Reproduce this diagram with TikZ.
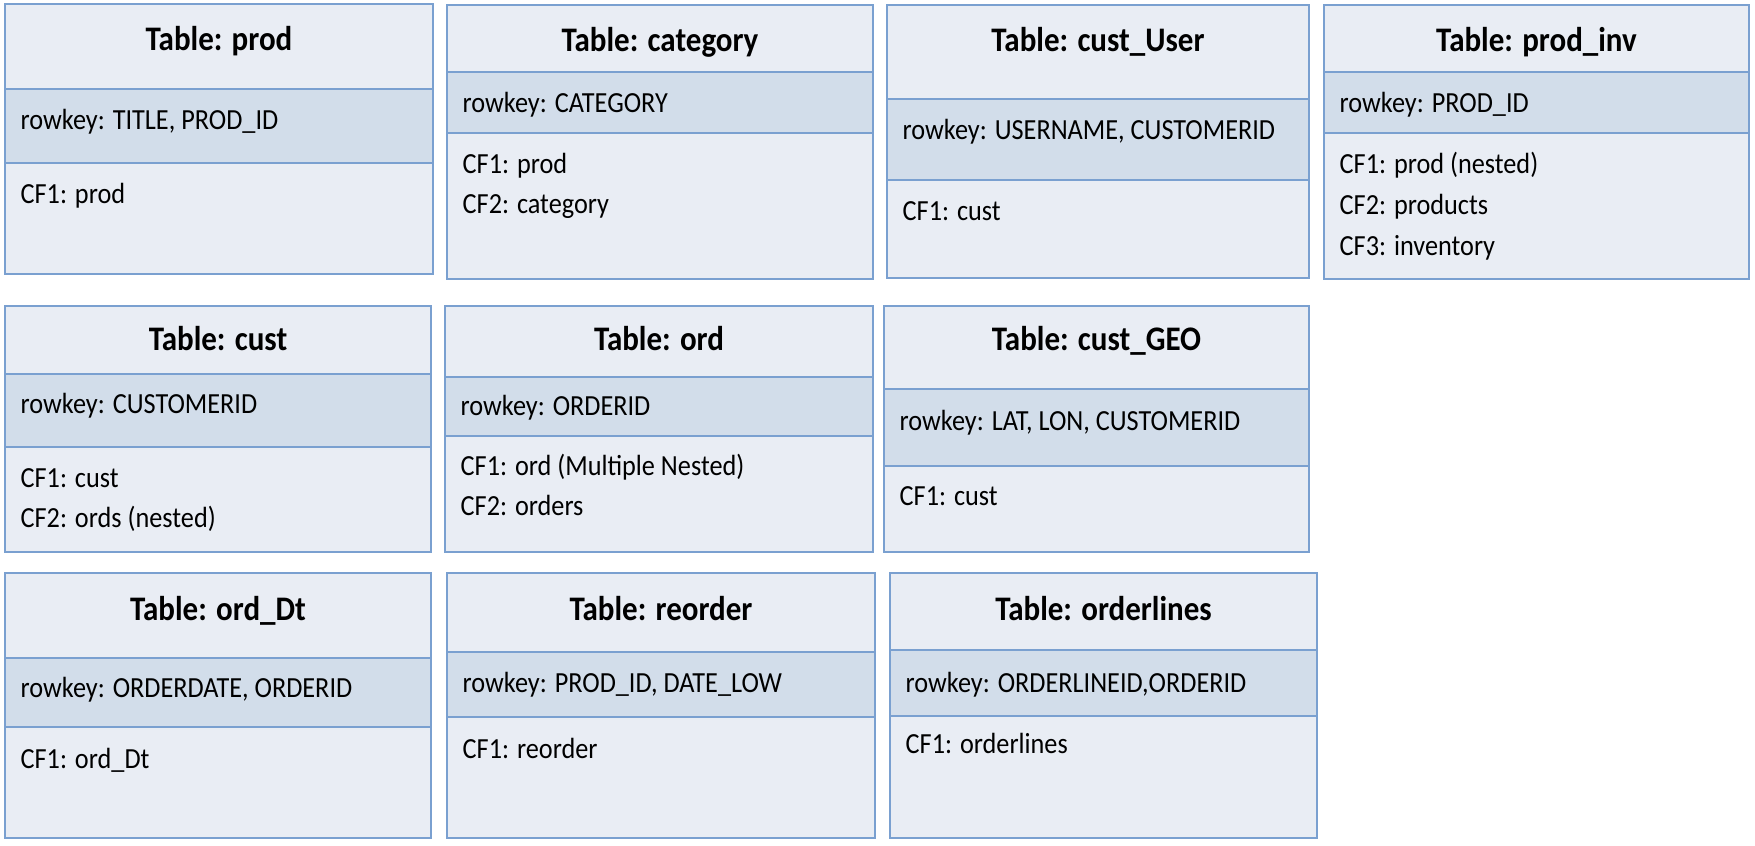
\documentclass[tikz,border=0pt]{standalone}
\usepackage{fontspec}
\setmainfont{Carlito}[FakeStretch=0.9]
\definecolor{tblline}{RGB}{122,160,208}
\definecolor{tblfill}{RGB}{233,237,244}
\definecolor{keyfill}{RGB}{210,221,234}
\begin{document}
\begin{tikzpicture}[
  tband/.style={draw=tblline, line width=0.7pt, fill=tblfill},
  kband/.style={draw=tblline, line width=0.7pt, fill=keyfill},
  ttl/.style={anchor=base, inner sep=0pt, font=\fontsize{9.8}{11}\selectfont\bfseries},
  txt/.style={anchor=base west, inner sep=0pt, font=\fontsize{8.3}{10}\selectfont}]
\useasboundingbox (0,0) rectangle (17.55,-8.45);

% prod
\draw [tband](0.05,-0.04) rectangle (4.33,-0.89);
\draw [kband](0.05,-0.89) rectangle (4.33,-1.63);
\draw [tband](0.05,-1.63) rectangle (4.33,-2.74);
\node (prod) at (2.19,-0.50) [ttl]{Table: prod};
\node (prodkey) at (0.20,-1.29) [txt]{rowkey: TITLE, PROD\_ID};
\node (prodcf1) at (0.20,-2.03) [txt]{CF1: prod};

% category
\draw [tband](4.47,-0.05) rectangle (8.73,-0.72);
\draw [kband](4.47,-0.72) rectangle (8.73,-1.33);
\draw [tband](4.47,-1.33) rectangle (8.73,-2.79);
\node (cat) at (6.60,-0.51) [ttl]{Table: category};
\node (catkey) at (4.62,-1.12) [txt]{rowkey: CATEGORY};
\node (catcf1) at (4.62,-1.73) [txt]{CF1: prod};
\node (catcf2) at (4.62,-2.13) [txt]{CF2: category};

% cust_User
\draw [tband](8.87,-0.05) rectangle (13.09,-0.99);
\draw [kband](8.87,-0.99) rectangle (13.09,-1.80);
\draw [tband](8.87,-1.80) rectangle (13.09,-2.78);
\node (user) at (10.98,-0.51) [ttl]{Table: cust\_User};
\node (userkey) at (9.02,-1.39) [txt]{rowkey: USERNAME, CUSTOMERID};
\node (usercf1) at (9.02,-2.20) [txt]{CF1: cust};

% prod_inv
\draw [tband](13.24,-0.05) rectangle (17.49,-0.72);
\draw [kband](13.24,-0.72) rectangle (17.49,-1.33);
\draw [tband](13.24,-1.33) rectangle (17.49,-2.79);
\node (inv) at (15.365,-0.51) [ttl]{Table: prod\_inv};
\node (invkey) at (13.39,-1.12) [txt]{rowkey: PROD\_ID};
\node (invcf1) at (13.39,-1.73) [txt]{CF1: prod (nested)};
\node (invcf2) at (13.39,-2.14) [txt]{CF2: products};
\node (invcf3) at (13.39,-2.55) [txt]{CF3: inventory};

% cust
\draw [tband](0.05,-3.06) rectangle (4.31,-3.74);
\draw [kband](0.05,-3.74) rectangle (4.31,-4.47);
\draw [tband](0.05,-4.47) rectangle (4.31,-5.52);
\node (cust) at (2.18,-3.50) [ttl]{Table: cust};
\node (custkey) at (0.20,-4.13) [txt]{rowkey: CUSTOMERID};
\node (custcf1) at (0.20,-4.87) [txt]{CF1: cust};
\node (custcf2) at (0.20,-5.27) [txt]{CF2: ords (nested)};

% ord
\draw [tband](4.45,-3.06) rectangle (8.73,-3.77);
\draw [kband](4.45,-3.77) rectangle (8.73,-4.36);
\draw [tband](4.45,-4.36) rectangle (8.73,-5.52);
\node (ord) at (6.59,-3.50) [ttl]{Table: ord};
\node (ordkey) at (4.60,-4.15) [txt]{rowkey: ORDERID};
\node (ordcf1) at (4.60,-4.75) [txt]{CF1: ord (Multiple Nested)};
\node (ordcf2) at (4.60,-5.15) [txt]{CF2: orders};

% cust_GEO
\draw [tband](8.84,-3.06) rectangle (13.09,-3.89);
\draw [kband](8.84,-3.89) rectangle (13.09,-4.66);
\draw [tband](8.84,-4.66) rectangle (13.09,-5.52);
\node (geo) at (10.965,-3.50) [ttl]{Table: cust\_GEO};
\node (geokey) at (8.99,-4.30) [txt]{rowkey: LAT, LON, CUSTOMERID};
\node (geocf1) at (8.99,-5.05) [txt]{CF1: cust};

% ord_Dt
\draw [tband](0.05,-5.73) rectangle (4.31,-6.58);
\draw [kband](0.05,-6.58) rectangle (4.31,-7.27);
\draw [tband](0.05,-7.27) rectangle (4.31,-8.38);
\node (ordDt) at (2.18,-6.20) [ttl]{Table: ord\_Dt};
\node (ordDtkey) at (0.20,-6.97) [txt]{rowkey: ORDERDATE, ORDERID};
\node (ordDtcf1) at (0.20,-7.68) [txt]{CF1: ord\_Dt};

% reorder
\draw [tband](4.47,-5.73) rectangle (8.75,-6.52);
\draw [kband](4.47,-6.52) rectangle (8.75,-7.17);
\draw [tband](4.47,-7.17) rectangle (8.75,-8.38);
\node (reord) at (6.61,-6.20) [ttl]{Table: reorder};
\node (reordkey) at (4.62,-6.92) [txt]{rowkey: PROD\_ID, DATE\_LOW};
\node (reordcf1) at (4.62,-7.58) [txt]{CF1: reorder};

% orderlines
\draw [tband](8.90,-5.73) rectangle (13.17,-6.50);
\draw [kband](8.90,-6.50) rectangle (13.17,-7.16);
\draw [tband](8.90,-7.16) rectangle (13.17,-8.38);
\node (lines) at (11.035,-6.20) [ttl]{Table: orderlines};
\node (lineskey) at (9.05,-6.92) [txt]{rowkey: ORDERLINEID,ORDERID};
\node (linescf1) at (9.05,-7.53) [txt]{CF1: orderlines};
\end{tikzpicture}
\end{document}
